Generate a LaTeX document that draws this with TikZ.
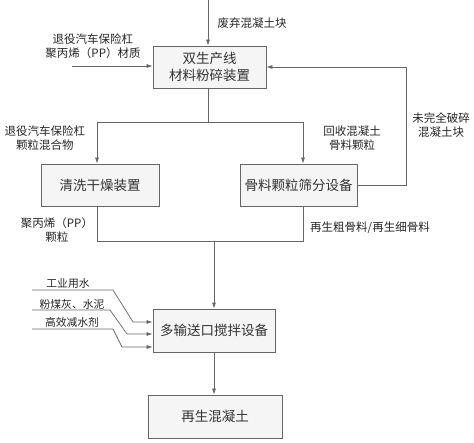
\documentclass[tikz,border=0pt]{standalone}
\usepackage{fontspec}
\newfontfamily\cjk{Noto Sans CJK SC}
\usetikzlibrary{arrows.meta}
\begin{document}
\begin{tikzpicture}[x=1pt,y=-1pt, font=\cjk,
 box/.style={draw=black!60, fill=black!4, line width=0.8pt, inner sep=0pt, font=\cjk\fontsize{13.5}{17}\selectfont, align=center, text=black!80},
 lab/.style={font=\cjk\fontsize{11.5}{14.5}\selectfont, inner sep=0pt, align=center, text=black!85},
 slab/.style={lab, font=\cjk\fontsize{10.8}{13}\selectfont},
 ln/.style={draw=black!60, line width=0.7pt},
 arr/.style={ln, -{Latex[length=6pt,width=4pt]}}]
\useasboundingbox (0,0) rectangle (474,443);
% boxes
\node[box, minimum width=113pt, minimum height=42pt] (crush) at (209.5,67) {双生产线\\材料粉碎装置};
\node[box, minimum width=118pt, minimum height=42pt] (clean) at (100,185) {清洗干燥装置};
\node[box, minimum width=117pt, minimum height=42pt] (sieve) at (298.5,185) {骨料颗粒筛分设备};
\node[box, minimum width=122pt, minimum height=43pt] (mixer) at (214,330.5) {多输送口搅拌设备};
\node[box, minimum width=134pt, minimum height=43pt] (out) at (215,416.5) {再生混凝土};
% coordinates
\coordinate (top) at (208,0);
\coordinate (inL) at (72,66);
\coordinate (sp) at (208,122);
\coordinate (spL) at (97,122);
\coordinate (spR) at (303,122);
\coordinate (mL) at (97,241);
\coordinate (mR) at (303,241);
\coordinate (mM) at (214,241);
\coordinate (w1) at (32,290);
\coordinate (w2) at (32,310);
\coordinate (w3) at (32,329);
% connectors
\draw[arr] (top) -- (top |- crush.north);
\draw[arr] (inL) -- (inL -| crush.west);
\draw[arr] (sieve.east) -- ++(49,0) |- (crush.east);
\draw[ln] (top |- crush.south) -- (sp);
\draw[ln] (spL) -- (spR);
\draw[arr] (spL) -- (spL |- clean.north);
\draw[arr] (spR) -- (spR |- sieve.north);
\draw[ln] (spL |- clean.south) -- (mL) -- (mR) -- (spR |- sieve.south);
\draw[arr] (mM) -- (mixer.north);
\draw[arr] (mixer.south) -- (mixer.south |- out.north);
\draw[arr] (w1) -- ++(81,0) -- ++(20,32) -- (mixer.west |- 0,322);
\draw[arr] (w2) -- ++(78,0) -- ++(17,24) -- (mixer.west |- 0,334);
\draw[arr] (w3) -- ++(81,0) -- ++(9,18) -- (mixer.west |- 0,347);
% labels
\node[lab] (l1) at (252,23) {废弃混凝土块};
\node[lab] (l2) at (93,46) {退役汽车保险杠\\聚丙烯（PP）材质};
\node[lab] (l3) at (441,125) {未完全破碎\\混凝土块};
\node[lab] (l4) at (45,138) {退役汽车保险杠\\颗粒混合物};
\node[lab] (l5) at (352,138) {回收混凝土\\骨料颗粒};
\node[lab] (l6) at (57,230) {聚丙烯（PP）\\颗粒};
\node[lab] (l7) at (370,228) {再生粗骨料/再生细骨料};
\node[slab] (l8) at (68,283) {工业用水};
\node[slab] (l9) at (72,304) {粉煤灰、水泥};
\node[slab] (l10) at (72,322) {高效减水剂};
\end{tikzpicture}
\end{document}
